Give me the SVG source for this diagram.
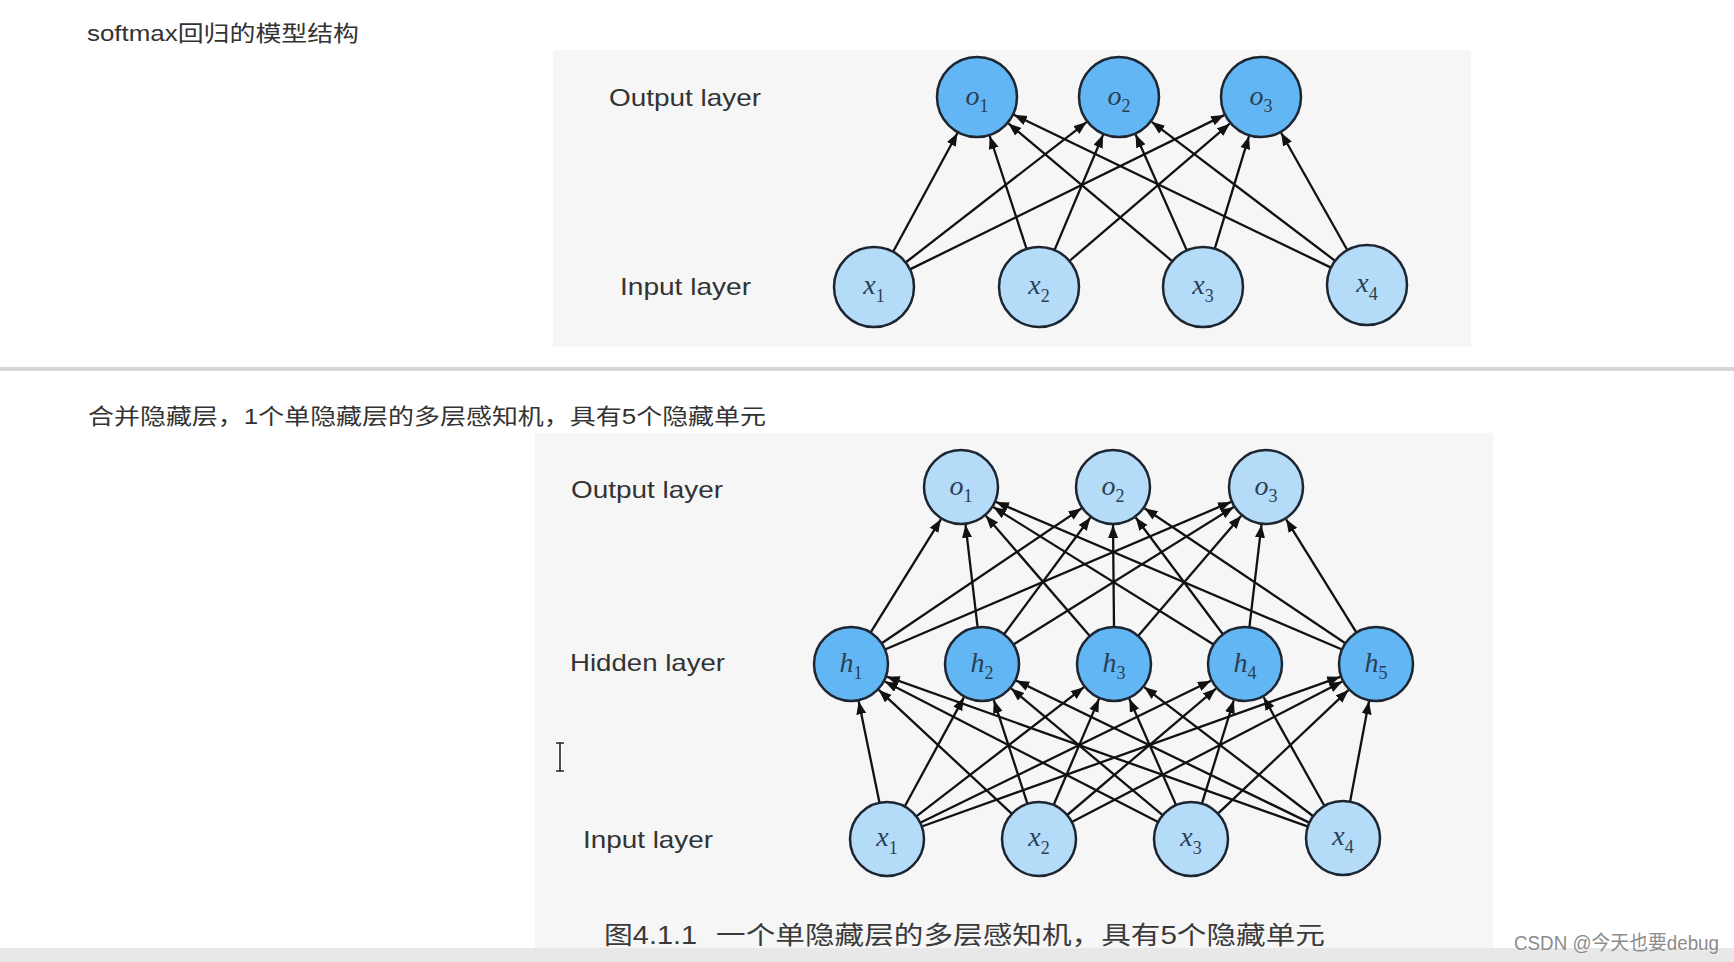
<svg xmlns="http://www.w3.org/2000/svg" width="1734" height="962" viewBox="0 0 1734 962">
<style>
.panel{fill:#f6f6f6}
.head{font-family:"Liberation Sans","Noto Sans CJK SC",sans-serif;font-size:22px;fill:#333}
.layer{font-family:"Liberation Sans",Arial,sans-serif;font-size:24px;fill:#333}
.cap{font-family:"Liberation Sans","Noto Sans CJK SC",sans-serif;font-size:25px;fill:#3a3a3a}
.wm{font-family:"Liberation Sans","Noto Sans CJK SC",sans-serif;font-size:20px;fill:#8c8c8c;stroke:#fff;stroke-width:0.6;paint-order:stroke}
.dark{fill:#62b6f4;stroke:#1c2530;stroke-width:2.5}
.light{fill:#b4dbf8;stroke:#1c2530;stroke-width:2.5}
.nl{font-family:"Liberation Serif","Times New Roman",serif;font-style:italic;font-size:28px;fill:#2b3f55;text-anchor:middle}
.sub{font-style:normal;font-size:18px}
.edge line{stroke:#111;stroke-width:2.3;marker-end:url(#ah)}
</style>
<defs>
<marker id="ah" markerUnits="userSpaceOnUse" markerWidth="14" markerHeight="12" refX="13" refY="5" orient="auto">
<path d="M0,0 L13,5 L0,10 z" fill="#111"/>
</marker>
</defs>
<rect width="1734" height="962" fill="#fff"/>
<text class="head" x="87" y="41" textLength="272" lengthAdjust="spacingAndGlyphs">softmax回归的模型结构</text>
<rect class="panel" x="553" y="50" width="918" height="297"/>
<rect x="0" y="367" width="1734" height="4" fill="#d6d6d6"/>
<text class="head" x="88" y="424" textLength="678" lengthAdjust="spacingAndGlyphs">合并隐藏层，1个单隐藏层的多层感知机，具有5个隐藏单元</text>
<rect class="panel" x="535" y="433" width="958" height="520"/>

<g id="labels-top">
<text class="layer" x="609" y="106" textLength="152" lengthAdjust="spacingAndGlyphs">Output layer</text>
<text class="layer" x="620" y="295" textLength="131" lengthAdjust="spacingAndGlyphs">Input layer</text>
</g>
<g id="labels-bottom">
<text class="layer" x="571" y="498" textLength="152" lengthAdjust="spacingAndGlyphs">Output layer</text>
<text class="layer" x="570" y="671" textLength="155" lengthAdjust="spacingAndGlyphs">Hidden layer</text>
<text class="layer" x="583" y="848" textLength="130" lengthAdjust="spacingAndGlyphs">Input layer</text>
</g>

<g id="connectors" class="edge">
<!-- top panel: x -> o -->
<line x1="893.1" y1="251.8" x2="957.5" y2="133.0"/>
<line x1="905.6" y1="262.5" x2="1086.6" y2="122.1"/>
<line x1="909.9" y1="269.4" x2="1224.2" y2="115.1"/>
<line x1="1026.6" y1="249.0" x2="989.7" y2="136.0"/>
<line x1="1054.5" y1="250.1" x2="1103.1" y2="134.8"/>
<line x1="1069.4" y1="261.0" x2="1229.8" y2="123.7"/>
<line x1="1172.4" y1="261.3" x2="1008.4" y2="123.4"/>
<line x1="1186.8" y1="250.4" x2="1135.6" y2="134.5"/>
<line x1="1214.7" y1="248.8" x2="1249.0" y2="136.2"/>
<line x1="1331.0" y1="267.6" x2="1013.9" y2="114.8"/>
<line x1="1335.1" y1="260.8" x2="1151.7" y2="121.8"/>
<line x1="1347.4" y1="250.2" x2="1281.1" y2="132.7"/>
<!-- bottom panel: h -> o -->
<line x1="870.5" y1="632.6" x2="940.9" y2="519.3"/>
<line x1="881.7" y1="643.3" x2="1081.5" y2="508.3"/>
<line x1="885.0" y1="649.5" x2="1231.0" y2="501.9"/>
<line x1="977.6" y1="627.2" x2="965.5" y2="524.7"/>
<line x1="1004.0" y1="634.3" x2="1090.4" y2="517.5"/>
<line x1="1013.4" y1="644.4" x2="1233.7" y2="507.1"/>
<line x1="1089.8" y1="636.0" x2="985.8" y2="515.7"/>
<line x1="1114" y1="627" x2="1113" y2="525"/>
<line x1="1138.1" y1="635.9" x2="1241.2" y2="515.8"/>
<line x1="1213.6" y1="644.4" x2="993.3" y2="507.1"/>
<line x1="1222.9" y1="634.3" x2="1135.7" y2="517.5"/>
<line x1="1249.4" y1="627.2" x2="1261.5" y2="524.7"/>
<line x1="1342.0" y1="649.5" x2="996.0" y2="501.9"/>
<line x1="1345.3" y1="643.3" x2="1144.5" y2="508.2"/>
<line x1="1356.5" y1="632.6" x2="1286.1" y2="519.3"/>
<!-- bottom panel: x -> h -->
<line x1="879.5" y1="802.8" x2="858.7" y2="701.2"/>
<line x1="904.7" y1="806.5" x2="963.9" y2="697.4"/>
<line x1="916.3" y1="816.4" x2="1083.9" y2="687.2"/>
<line x1="920.2" y1="822.8" x2="1210.9" y2="680.7"/>
<line x1="921.8" y1="826.5" x2="1340.2" y2="676.8"/>
<line x1="1011.9" y1="813.8" x2="878.8" y2="689.9"/>
<line x1="1027.5" y1="803.8" x2="993.8" y2="700.1"/>
<line x1="1053.6" y1="805.0" x2="1099.0" y2="698.9"/>
<line x1="1067.2" y1="815.0" x2="1216.0" y2="688.6"/>
<line x1="1071.8" y1="821.9" x2="1342.3" y2="681.5"/>
<line x1="1158.1" y1="822.1" x2="884.8" y2="681.4"/>
<line x1="1162.6" y1="815.2" x2="1011.1" y2="688.4"/>
<line x1="1176.1" y1="805.1" x2="1129.3" y2="698.8"/>
<line x1="1201.9" y1="803.6" x2="1233.8" y2="700.3"/>
<line x1="1217.9" y1="813.6" x2="1348.4" y2="690.1"/>
<line x1="1308.1" y1="826.6" x2="886.8" y2="676.7"/>
<line x1="1309.7" y1="822.9" x2="1016.2" y2="680.6"/>
<line x1="1313.6" y1="816.5" x2="1144.2" y2="687.1"/>
<line x1="1324.9" y1="806.7" x2="1263.6" y2="697.2"/>
<line x1="1349.9" y1="802.6" x2="1369.0" y2="701.3"/>
</g>

<!-- top panel nodes -->
<g id="top-o1"><circle class="dark" cx="977" cy="97" r="40"/><text class="nl" x="977" y="105">o<tspan class="sub" dy="7">1</tspan></text></g>
<g id="top-o2"><circle class="dark" cx="1119" cy="97" r="40"/><text class="nl" x="1119" y="105">o<tspan class="sub" dy="7">2</tspan></text></g>
<g id="top-o3"><circle class="dark" cx="1261" cy="97" r="40"/><text class="nl" x="1261" y="105">o<tspan class="sub" dy="7">3</tspan></text></g>
<g id="top-x1"><circle class="light" cx="874" cy="287" r="40"/><text class="nl" x="874" y="294">x<tspan class="sub" dy="8">1</tspan></text></g>
<g id="top-x2"><circle class="light" cx="1039" cy="287" r="40"/><text class="nl" x="1039" y="294">x<tspan class="sub" dy="8">2</tspan></text></g>
<g id="top-x3"><circle class="light" cx="1203" cy="287" r="40"/><text class="nl" x="1203" y="294">x<tspan class="sub" dy="8">3</tspan></text></g>
<g id="top-x4"><circle class="light" cx="1367" cy="285" r="40"/><text class="nl" x="1367" y="292">x<tspan class="sub" dy="8">4</tspan></text></g>

<!-- bottom panel nodes -->
<g id="bot-o1"><circle class="light" cx="961" cy="487" r="37"/><text class="nl" x="961" y="495">o<tspan class="sub" dy="7">1</tspan></text></g>
<g id="bot-o2"><circle class="light" cx="1113" cy="487" r="37"/><text class="nl" x="1113" y="495">o<tspan class="sub" dy="7">2</tspan></text></g>
<g id="bot-o3"><circle class="light" cx="1266" cy="487" r="37"/><text class="nl" x="1266" y="495">o<tspan class="sub" dy="7">3</tspan></text></g>
<g id="bot-h1"><circle class="dark" cx="851" cy="664" r="37"/><text class="nl" x="851" y="672">h<tspan class="sub" dy="7">1</tspan></text></g>
<g id="bot-h2"><circle class="dark" cx="982" cy="664" r="37"/><text class="nl" x="982" y="672">h<tspan class="sub" dy="7">2</tspan></text></g>
<g id="bot-h3"><circle class="dark" cx="1114" cy="664" r="37"/><text class="nl" x="1114" y="672">h<tspan class="sub" dy="7">3</tspan></text></g>
<g id="bot-h4"><circle class="dark" cx="1245" cy="664" r="37"/><text class="nl" x="1245" y="672">h<tspan class="sub" dy="7">4</tspan></text></g>
<g id="bot-h5"><circle class="dark" cx="1376" cy="664" r="37"/><text class="nl" x="1376" y="672">h<tspan class="sub" dy="7">5</tspan></text></g>
<g id="bot-x1"><circle class="light" cx="887" cy="839" r="37"/><text class="nl" x="887" y="846">x<tspan class="sub" dy="8">1</tspan></text></g>
<g id="bot-x2"><circle class="light" cx="1039" cy="839" r="37"/><text class="nl" x="1039" y="846">x<tspan class="sub" dy="8">2</tspan></text></g>
<g id="bot-x3"><circle class="light" cx="1191" cy="839" r="37"/><text class="nl" x="1191" y="846">x<tspan class="sub" dy="8">3</tspan></text></g>
<g id="bot-x4"><circle class="light" cx="1343" cy="838" r="37"/><text class="nl" x="1343" y="845">x<tspan class="sub" dy="8">4</tspan></text></g>

<!-- text cursor -->
<path d="M556,743 H564 M560,743 V771 M556,771 H564" stroke="#fff" stroke-width="4" fill="none"/>
<path d="M556,743 H564 M560,743 V771 M556,771 H564" stroke="#222" stroke-width="1.6" fill="none"/>

<text class="cap" x="604" y="944" textLength="93" lengthAdjust="spacingAndGlyphs">图4.1.1</text>
<text class="cap" x="716" y="944" textLength="609" lengthAdjust="spacingAndGlyphs">一个单隐藏层的多层感知机，具有5个隐藏单元</text>
<rect x="0" y="948" width="1734" height="14" fill="#e8e8e8"/>
<text class="wm" x="1514" y="950" textLength="205" lengthAdjust="spacingAndGlyphs">CSDN @今天也要debug</text>
</svg>
